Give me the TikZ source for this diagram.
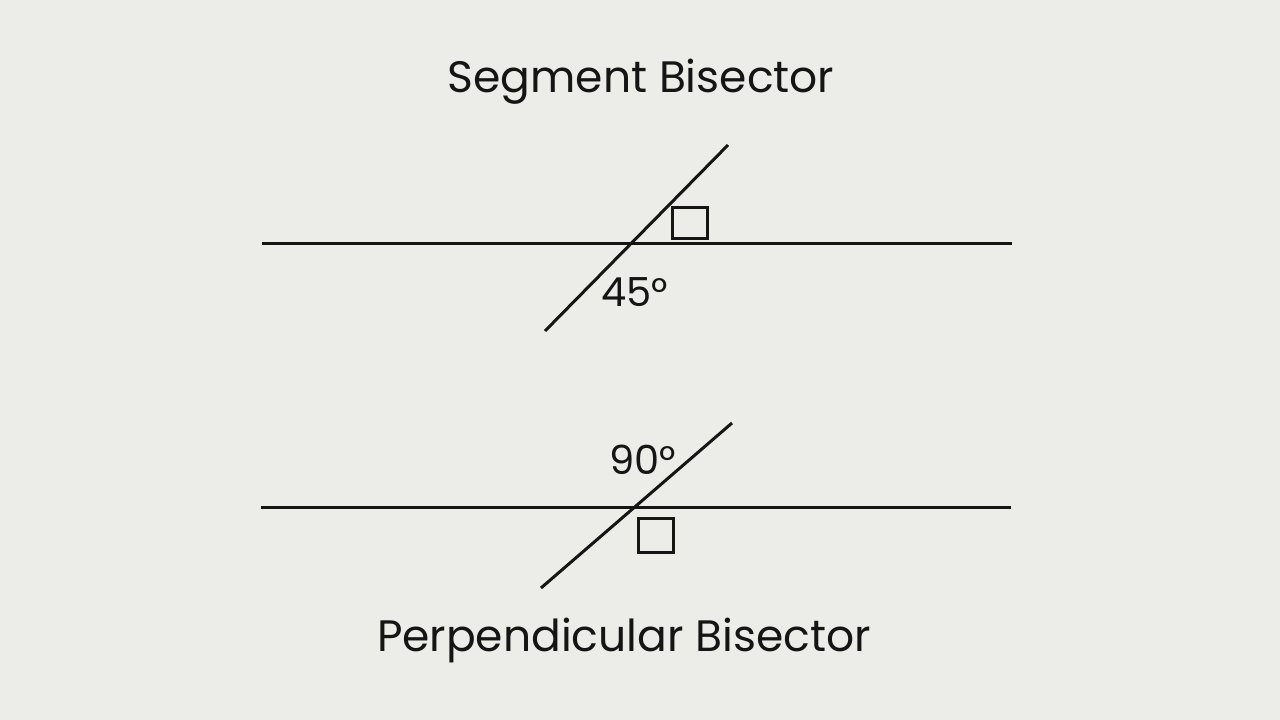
\documentclass[tikz,border=0pt]{standalone}
\usepackage{fontspec}
\setmainfont{Poppins}
\definecolor{bg}{HTML}{ECECE9}
\definecolor{ink}{HTML}{151515}
\begin{document}
\begin{tikzpicture}[x=1pt,y=-1pt,ink,line width=3pt,
  lbl/.style={inner sep=0pt,font=\fontsize{40}{44}\selectfont},
  ttl/.style={inner sep=0pt,font=\fontsize{44}{50}\selectfont}]
\fill[bg] (0,0) rectangle (1280,720);
\useasboundingbox (0,0) rectangle (1280,720);
\node[ttl] (t1) at (641,82) {Segment Bisector};
\coordinate (a1) at (262,243); \coordinate (b1) at (1012,243);
\coordinate (c1) at (545,331); \coordinate (d1) at (728,145);
\draw (a1) -- (b1); \draw (c1) -- (d1);
\draw (672,207) rectangle (707,238);
\node[lbl] (l1) at (635,292) {45°};
\coordinate (a2) at (261,507); \coordinate (b2) at (1011,507);
\coordinate (c2) at (541,588); \coordinate (d2) at (732,423);
\draw (a2) -- (b2); \draw (c2) -- (d2);
\draw (638,518) rectangle (673,552);
\node[lbl] (l2) at (643,460) {90°};
\node[ttl] (t2) at (624,640) {Perpendicular Bisector};
\end{tikzpicture}
\end{document}
